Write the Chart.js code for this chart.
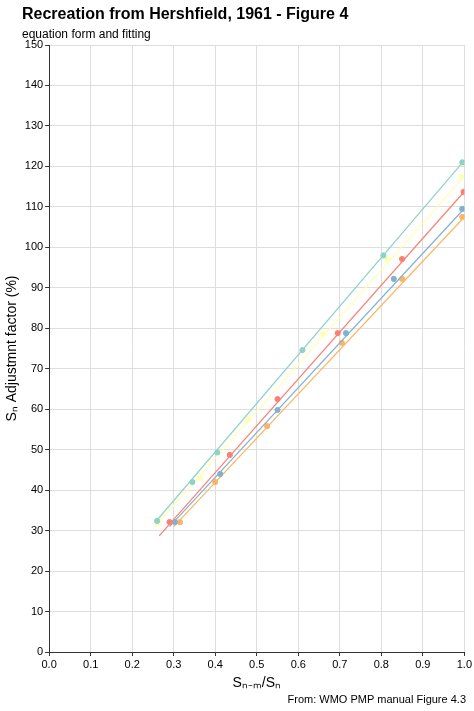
<!DOCTYPE html>
<html>
<head>
<meta charset="utf-8">
<script src="https://cdn.jsdelivr.net/npm/chart.js@4"></script>
<style>
  html, body { margin: 0; padding: 0; background: #fff; }
  #wrap { width: 474px; height: 711px; position: relative; }
</style>
</head>
<body>
<div id="wrap"><canvas id="c"></canvas></div>
<script>
const seriesNames = ["teal", "yellow", "red", "blue", "orange"];
const seriesColors = ["#8dd3c7", "#ffffb3", "#fb8072", "#80b1d3", "#fdb462"];

// observed points (x = Sn-m/Sn, y = adjustment %)
const tealX = [0.26, 0.345, 0.405, 0.61, 0.805, 0.995];
const tealY = [32.4, 42.0, 49.3, 74.6, 98.0, 121.0];
const yellowX = [0.262, 0.364, 0.48, 0.66, 0.815, 0.993];
const yellowY = [31.9, 43.0, 57.5, 78.6, 97.0, 117.4];
const redX = [0.29, 0.435, 0.55, 0.695, 0.85, 0.998];
const redY = [32.1, 48.7, 62.5, 78.8, 97.1, 113.7];
const blueX = [0.303, 0.412, 0.55, 0.715, 0.83, 0.995];
const blueY = [32.1, 44.0, 59.8, 78.8, 92.2, 109.5];
const orangeX = [0.315, 0.40, 0.525, 0.705, 0.85, 0.995];
const orangeY = [32.1, 42.0, 55.8, 76.4, 92.2, 107.5];

// fitted line endpoints
const fitX = [[0.255, 1.0], [0.255, 1.0], [0.265, 1.0], [0.29, 1.0], [0.3, 1.0]];
const fitY = [[32.0, 121.5], [31.0, 117.6], [28.7, 113.8], [31.0, 109.6], [31.0, 107.5]];

const xTicks = [0, 0.1, 0.2, 0.3, 0.4, 0.5, 0.6, 0.7, 0.8, 0.9, 1.0];

const pointSets = [[tealX, tealY], [yellowX, yellowY], [redX, redY], [blueX, blueY], [orangeX, orangeY]];

const toXY = (xs, ys) => xs.map((x, i) => ({ x: x, y: ys[i] }));

const datasets = [];
seriesNames.forEach((name, i) => {
  datasets.push({
    type: "line",
    label: name + " fit",
    data: toXY(fitX[i], fitY[i]),
    borderColor: seriesColors[i],
    borderWidth: 1.2,
    pointRadius: 0,
    fill: false,
  });
  datasets.push({
    type: "scatter",
    label: name,
    data: toXY(pointSets[i][0], pointSets[i][1]),
    backgroundColor: seriesColors[i],
    borderColor: seriesColors[i],
    pointRadius: 2.6,
  });
});

const textPlugin = {
  id: "texts",
  afterDraw(chart) {
    const ctx = chart.ctx;
    ctx.save();
    ctx.fillStyle = "#000";
    ctx.textBaseline = "alphabetic";
    ctx.font = "bold 16px 'Liberation Sans', Arial, sans-serif";
    ctx.textAlign = "left";
    ctx.fillText("Recreation from Hershfield, 1961 - Figure 4", 22, 19);
    ctx.font = "12px 'Liberation Sans', Arial, sans-serif";
    ctx.fillText("equation form and fitting", 22, 38);
    ctx.font = "11px 'Liberation Sans', Arial, sans-serif";
    ctx.textAlign = "right";
    ctx.fillText("From: WMO PMP manual Figure 4.3", 466, 703);
    ctx.restore();
  }
};

new Chart(document.getElementById("c"), {
  data: { datasets },
  options: {
    responsive: true,
    maintainAspectRatio: false,
    animation: false,
    layout: { padding: { top: 45, right: 8, bottom: 19, left: 4 } },
    plugins: { legend: { display: false }, tooltip: { enabled: false } },
    scales: {
      x: {
        type: "linear", min: 0, max: 1,
        afterBuildTicks: (ax) => { ax.ticks = xTicks.map(v => ({ value: v })); },
        ticks: { color: "#000", font: { size: 11, family: "'Liberation Sans', Arial" }, padding: 2,
          callback: (v) => v.toFixed(1) },
        grid: { color: "#dedede", lineWidth: 1, tickLength: 4, tickColor: "#333" },
        border: { color: "#333", width: 1 },
        title: { display: true, text: "Sₙ₋ₘ/Sₙ", color: "#000", font: { size: 14, family: "'Liberation Sans', Arial" }, padding: { top: 2, bottom: 0 } },
      },
      y: {
        type: "linear", min: 0, max: 150,
        ticks: { stepSize: 10, color: "#000", font: { size: 11, family: "'Liberation Sans', Arial" }, padding: 2 },
        grid: { color: "#dedede", lineWidth: 1, tickLength: 4, tickColor: "#333" },
        border: { color: "#333", width: 1 },
        title: { display: true, text: "Sₙ Adjustmnt factor (%)", color: "#000", font: { size: 14, family: "'Liberation Sans', Arial" }, padding: { top: 0, bottom: 2 } },
      },
    },
  },
  plugins: [textPlugin],
});
</script>
</body>
</html>
